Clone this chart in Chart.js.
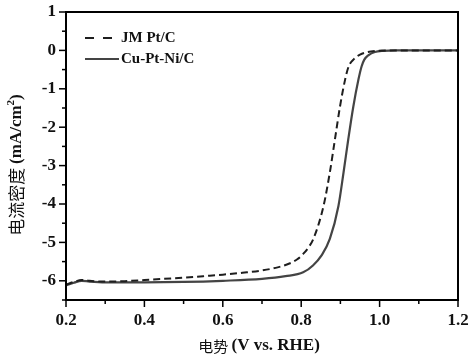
<!DOCTYPE html>
<html>
<head>
<meta charset="utf-8">
<script src="https://cdn.jsdelivr.net/npm/chart.js@4.4.1/dist/chart.umd.min.js"></script>
<style>
  html, body { margin: 0; padding: 0; background: #fff; }
  #wrap { width: 474px; height: 362px; }
</style>
</head>
<body>
<div id="wrap"><canvas id="chart" width="474" height="362"></canvas></div>
<script>
// ── Données ──────────────────────────────────────────────────────────────
const jmVolts   = [0.2, 0.22, 0.24, 0.26, 0.3, 0.35, 0.4, 0.45, 0.5, 0.55, 0.6, 0.65, 0.7, 0.74, 0.77, 0.79, 0.805, 0.818, 0.831, 0.857, 0.873, 0.886, 0.899, 0.912, 0.921, 0.935, 0.95, 0.967, 0.99, 1.02, 1.1, 1.2];
const jmCurrent = [-6.1, -6.03, -5.98, -6.0, -6.02, -6.01, -5.98, -5.95, -5.92, -5.88, -5.84, -5.79, -5.73, -5.65, -5.55, -5.44, -5.3, -5.14, -4.91, -4.05, -3.18, -2.32, -1.46, -0.76, -0.42, -0.22, -0.11, -0.05, -0.015, 0, 0, 0];

const cuVolts   = [0.2, 0.22, 0.24, 0.26, 0.3, 0.4, 0.5, 0.6, 0.7, 0.76, 0.805, 0.83, 0.852, 0.873, 0.895, 0.908, 0.92, 0.933, 0.946, 0.954, 0.961, 0.972, 0.988, 1.01, 1.04, 1.1, 1.2];
const cuCurrent = [-6.12, -6.05, -6.0, -6.02, -6.04, -6.04, -6.03, -6.0, -5.95, -5.88, -5.78, -5.6, -5.34, -4.91, -4.05, -3.18, -2.32, -1.46, -0.76, -0.42, -0.24, -0.12, -0.04, -0.01, 0, 0, 0];

const xTicks = { min: 0.2, max: 1.2, step: 0.1 };
const yTicks = { min: -6.5, max: 1, step: 0.5 };

const seriesNames = ['JM Pt/C', 'Cu-Pt-Ni/C'];

const SERIF = '"Liberation Serif", "Times New Roman", serif';
const CJK   = '"Noto Sans CJK SC", sans-serif';

const toPts = (xs, ys) => xs.map((x, i) => ({ x, y: ys[i] }));

// ── Axes, cadre, titres et légende ───────────────────────────────────────
const decor = {
  id: 'decor',
  afterDraw(chart) {
    const { ctx, chartArea: a, scales: { x, y } } = chart;
    ctx.save();
    ctx.strokeStyle = '#000';
    ctx.lineWidth = 2;
    ctx.strokeRect(a.left, a.top, a.right - a.left, a.bottom - a.top);

    // graduations (majeures longues, mineures courtes)
    ctx.lineWidth = 1.5;
    y.ticks.forEach(t => {
      const py = y.getPixelForValue(t.value);
      const len = t.value % 1 === 0 ? 7 : 4;
      ctx.beginPath(); ctx.moveTo(a.left, py); ctx.lineTo(a.left - len, py); ctx.stroke();
    });
    x.ticks.forEach(t => {
      const px = x.getPixelForValue(t.value);
      const major = Math.round(t.value * 10) % 2 === 0;
      ctx.beginPath(); ctx.moveTo(px, a.bottom); ctx.lineTo(px, a.bottom + (major ? 7 : 4)); ctx.stroke();
    });

    ctx.fillStyle = '#111';
    ctx.textBaseline = 'middle';
    ctx.textAlign = 'left';

    // titre axe X
    const xParts = [
      { t: '电势 ', f: `15px ${CJK}` },
      { t: '(V vs. RHE)', f: `bold 17px ${SERIF}` },
    ];
    let w = 0;
    xParts.forEach(p => { ctx.font = p.f; p.w = ctx.measureText(p.t).width; w += p.w; });
    let cx = 259 - w / 2;
    xParts.forEach(p => { ctx.font = p.f; ctx.fillText(p.t, cx, 346); cx += p.w; });

    // titre axe Y
    ctx.save();
    ctx.translate(17, 165);
    ctx.rotate(-Math.PI / 2);
    const yParts = [
      { t: '电流密度 ', f: `17px ${CJK}`, dy: 0 },
      { t: '(mA/cm', f: `bold 17px ${SERIF}`, dy: 0 },
      { t: '2', f: `bold 11px ${SERIF}`, dy: -6 },
      { t: ')', f: `bold 17px ${SERIF}`, dy: 0 },
    ];
    w = 0;
    yParts.forEach(p => { ctx.font = p.f; p.w = ctx.measureText(p.t).width; w += p.w; });
    cx = -w / 2;
    yParts.forEach(p => { ctx.font = p.f; ctx.fillText(p.t, cx, p.dy); cx += p.w; });
    ctx.restore();

    // légende
    ctx.strokeStyle = '#1e1e1e';
    ctx.lineWidth = 2;
    ctx.setLineDash([9, 9]);
    ctx.beginPath(); ctx.moveTo(85, 38); ctx.lineTo(112, 38); ctx.stroke();
    ctx.setLineDash([]);
    ctx.strokeStyle = '#444';
    ctx.beginPath(); ctx.moveTo(85, 59); ctx.lineTo(119, 59); ctx.stroke();
    ctx.font = `bold 15px ${SERIF}`;
    ctx.fillText(seriesNames[0], 121, 38);
    ctx.fillText(seriesNames[1], 121, 59);
    ctx.restore();
  }
};

new Chart(document.getElementById('chart'), {
  type: 'line',
  data: {
    datasets: [
      {
        label: seriesNames[0], data: toPts(jmVolts, jmCurrent),
        borderColor: '#1e1e1e', borderWidth: 2, borderDash: [7, 4],
        pointRadius: 0, cubicInterpolationMode: 'monotone', fill: false,
      },
      {
        label: seriesNames[1], data: toPts(cuVolts, cuCurrent),
        borderColor: '#444', borderWidth: 2.2,
        pointRadius: 0, cubicInterpolationMode: 'monotone', fill: false,
      },
    ]
  },
  options: {
    responsive: false, animation: false,
    layout: { padding: { left: 0, top: 12, right: 16, bottom: 0 } },
    plugins: { legend: { display: false }, tooltip: { enabled: false } },
    scales: {
      x: {
        type: 'linear', min: xTicks.min, max: xTicks.max,
        afterFit: s => { s.height = 62; s.paddingLeft = 0; s.paddingRight = 0; },
        grid: { display: false, drawTicks: false },
        border: { display: false },
        ticks: {
          stepSize: xTicks.step, autoSkip: false, maxRotation: 0, padding: 10,
          color: '#111', font: { family: SERIF, size: 17, weight: 'bold' },
          callback: v => Math.round(v * 10) % 2 === 0 ? v.toFixed(1) : '',
        },
      },
      y: {
        type: 'linear', min: yTicks.min, max: yTicks.max,
        afterFit: s => { s.width = 66; s.paddingTop = 0; s.paddingBottom = 0; },
        grid: { display: false, drawTicks: false },
        border: { display: false },
        ticks: {
          stepSize: yTicks.step, autoSkip: false, padding: 10,
          color: '#111', font: { family: SERIF, size: 17, weight: 'bold' },
          callback: v => v % 1 === 0 ? String(v) : '',
        },
      },
    }
  },
  plugins: [decor]
});
</script>
</body>
</html>
